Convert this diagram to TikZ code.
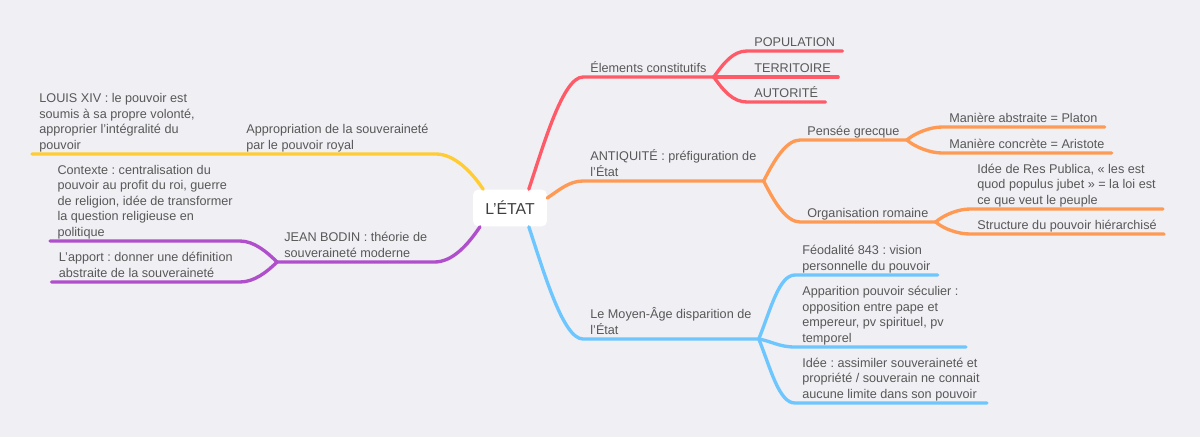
\documentclass[tikz,border=0pt]{standalone}
\usepackage{fontspec}
\setmainfont{Liberation Sans}
\frenchspacing
\definecolor{bg}{HTML}{F0EFF4}
\definecolor{txtgrey}{HTML}{585858}
\definecolor{rootgrey}{HTML}{3F3F3F}
\definecolor{lred}{HTML}{FF5A68}
\definecolor{lorange}{HTML}{FF9A55}
\definecolor{lyellow}{HTML}{FFCC33}
\definecolor{lpurple}{HTML}{AF4FCB}
\definecolor{lblue}{HTML}{6EC6FF}

\begin{document}
\begin{tikzpicture}[x=0.02cm, y=-0.02cm, line cap=round,
    topic/.style={anchor=south west, inner xsep=4pt, inner ysep=0pt, align=left,
      text=txtgrey, font=\fontsize{7.2}{8.8}\selectfont, execute at end node=\strut},
    root/.style={fill=white, rounded corners=3pt, minimum width=42pt, minimum height=21pt,
      inner sep=0pt, text=rootgrey, font=\fontsize{9}{11}\selectfont},
    branch/.style={line width=1.9pt, draw=#1}]
    \fill[bg] (0,0) rectangle (1200,437);
    \useasboundingbox (0,0) rectangle (1200,437);
    \node[root] (etat) at (510,208) {L’ÉTAT};
    % droite
    \node[topic] (elem) at (583,77) {Élements constitutifs};
    \node[topic] (pop) at (747,51) {POPULATION};
    \node[topic] (terr) at (747,77) {TERRITOIRE};
    \node[topic] (aut) at (747,102) {AUTORITÉ};
    \node[topic] (anti) at (583,181) {ANTIQUITÉ : préfiguration de\\l’État};
    \node[topic] (grec) at (800,140) {Pensée grecque};
    \node[topic] (abst) at (942,127) {Manière abstraite = Platon};
    \node[topic] (conc) at (942,153) {Manière concrète = Aristote};
    \node[topic] (rom) at (800,222) {Organisation romaine};
    \node[topic] (res) at (970,209) {Idée de Res Publica, « les est\\quod populus jubet » = la loi est\\ce que veut le peuple};
    \node[topic] (hier) at (970,234) {Structure du pouvoir hiérarchisé};
    \node[topic] (moyen) at (583,339) {Le Moyen-Âge disparition de\\l’État};
    \node[topic] (feod) at (795,275) {Féodalité 843 : vision\\personnelle du pouvoir};
    \node[topic] (secu) at (795,347) {Apparition pouvoir séculier :\\opposition entre pape et\\empereur, pv spirituel, pv\\temporel};
    \node[topic] (idee) at (795,403) {Idée : assimiler souveraineté et\\propriété / souverain ne connait\\aucune limite dans son pouvoir};
    % gauche
    \node[topic] (appr) at (239,154) {Appropriation de la souveraineté\\par le pouvoir royal};
    \node[topic] (louis) at (32,154) {LOUIS XIV : le pouvoir est\\soumis à sa propre volonté,\\approprier l’intégralité du\\pouvoir};
    \node[topic] (bodin) at (277,262) {JEAN BODIN : théorie de\\souveraineté moderne};
    \node[topic, anchor=south east] (ctx) at (240,241) {Contexte : centralisation du\\pouvoir au profit du roi, guerre\\de religion, idée de transformer\\la question religieuse en\\politique};
    \node[topic, anchor=south east] (apport) at (240,282) {L’apport : donner une définition\\abstraite de la souveraineté};

    % branches
    \draw[branch=lred] (etat.45) .. controls +(15,-45) and +(-20,0) .. (elem.south west) -- (elem.south east);
    \foreach \n/\d in {pop/-14, aut/14}
        \draw[branch=lred] (elem.south east) .. controls +(10,\d) and +(-14,0) .. (\n.south west) -- (\n.south east);
    \draw[branch=lred] (elem.south east) -- (terr.south west) -- (terr.south east);

    \draw[branch=lorange] (etat.15) .. controls +(12,-8) and +(-14,0) .. (anti.south west) -- (anti.south east);
    \foreach \n/\d in {grec/-20, rom/20}
        \draw[branch=lorange] (anti.south east) .. controls +(10,\d) and +(-14,0) .. (\n.south west) -- (\n.south east);
    \foreach \n/\d in {abst/-7, conc/7}
        \draw[branch=lorange] (grec.south east) .. controls +(8,\d) and +(-12,0) .. (\n.south west) -- (\n.south east);
    \foreach \n/\d in {res/-7, hier/7}
        \draw[branch=lorange] (rom.south east) .. controls +(8,\d) and +(-12,0) .. (\n.south west) -- (\n.south east);

    \draw[branch=lblue] (etat.-45) .. controls +(15,45) and +(-20,0) .. (moyen.south west) -- (moyen.south east);
    \foreach \n/\d in {feod/-30, secu/2, idee/30}
        \draw[branch=lblue] (moyen.south east) .. controls +(12,\d) and +(-16,0) .. (\n.south west) -- (\n.south east);

    \draw[branch=lyellow] (etat.145) .. controls +(-12,-18) and +(18,0) .. (appr.south east) -- (appr.south west) -- (louis.south east) -- (louis.south west);

    \draw[branch=lpurple] (etat.-148) .. controls +(-12,18) and +(18,0) .. (bodin.south east) -- (bodin.south west);
    \foreach \n/\d in {ctx/-10, apport/10}
        \draw[branch=lpurple] (bodin.south west) .. controls +(-10,\d) and +(14,0) .. (\n.south east) -- (\n.south west);
\end{tikzpicture}
\end{document}
